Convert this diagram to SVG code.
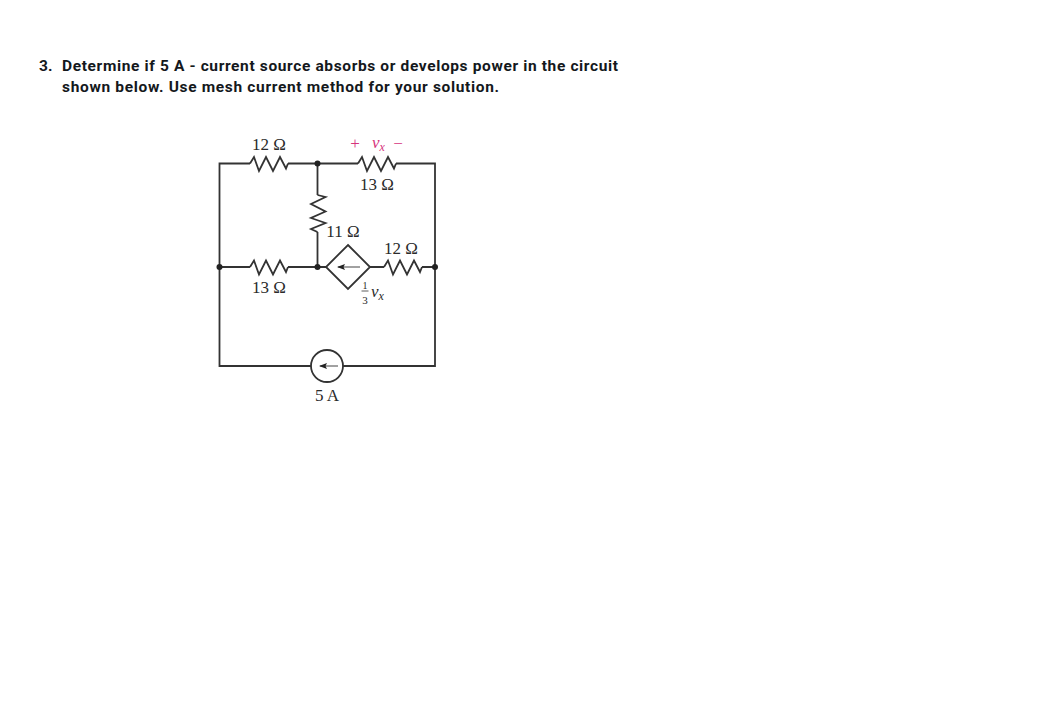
<svg xmlns="http://www.w3.org/2000/svg" width="1042" height="723" viewBox="0 0 1042 723">
<style>
.q{font-family:Roboto,"Liberation Sans",sans-serif;font-size:15.5px;font-weight:700;fill:#14181c}
.l{font-family:"Liberation Serif","Times New Roman",serif;font-size:17px;fill:#2a2a2a;text-anchor:middle}
.m{fill:#d6337c}
.w{fill:none;stroke:#333;stroke-width:1.8;stroke-linejoin:miter}
.d{fill:#222}
.a{fill:none;stroke:#444;stroke-width:1}
.v{font-style:italic;text-anchor:start}
</style>
<defs>
<path id="rh" d="M0 0L4 -6.500L9 7.500L16 -6.500L23 7.500L30 -6.500L36 5L38 0" class="w"/>
<marker id="ah" markerUnits="userSpaceOnUse" markerWidth="8" markerHeight="6" refX="7" refY="3" orient="auto"><path d="M0 0L8 3L0 6L1.500 3Z" fill="#222"/></marker>
</defs>
<rect width="1042" height="723" fill="#fff"/>
<g id="title">
<text class="q" x="39" y="71">3.</text>
<text class="q" x="62" y="71" textLength="556" lengthAdjust="spacing">Determine if 5 A - current source absorbs or develops power in the circuit</text>
<text class="q" x="62" y="92" textLength="437" lengthAdjust="spacing">shown below. Use mesh current method for your solution.</text>
</g>
<g id="connectors">
<path class="w" d="M250 163.500H219.500V366H311M343 366H435V163.500H396M358 163.500H288M317.500 163.500V195M317.500 232V267M219.500 267H250M288 267H326M370 267H384M422 267H435"/>
</g>
<g id="r-12-top"><use href="#rh" x="250" y="163.500"/><text class="l" x="269" y="150">12 Ω</text></g>
<g id="r-13-top"><use href="#rh" x="358" y="163.500"/><text class="l" x="377" y="190">13 Ω</text></g>
<g id="vx-label"><text class="l m" x="355" y="149">+</text><text class="l m v" x="372" y="148">v<tspan font-size="12" dy="3">x</tspan></text><text class="l m" x="398" y="149">−</text></g>
<g id="r-11"><path class="w" d="M317.500 195L325.500 197L311 204L325.500 211.500L311 218L325.500 223L311 229L317.500 232"/><text class="l" x="343" y="237">11 Ω</text></g>
<g id="r-13-left"><use href="#rh" x="250" y="267"/><text class="l" x="269" y="293">13 Ω</text></g>
<g id="r-12-right"><use href="#rh" x="384" y="267"/><text class="l" x="401" y="254">12 Ω</text></g>
<g id="dep-source"><path class="w" d="M348 245L370 267L348 289L326 267Z"/><path class="a" marker-end="url(#ah)" d="M360 267H338"/>
<text class="l" x="365" y="289" style="font-size:10px">1</text><path d="M361.500 291H368.500" stroke="#333" stroke-width="0.800"/><text class="l" x="365" y="303.500" style="font-size:11px">3</text><text class="l v" x="371" y="297">v<tspan font-size="12" dy="3">x</tspan></text></g>
<g id="current-source"><circle class="w" cx="327" cy="366" r="16"/><path class="a" marker-end="url(#ah)" d="M338 366H320"/><text class="l" x="327" y="401">5 A</text></g>
<g id="nodes">
<circle class="d" cx="317.500" cy="163.500" r="3"/>
<circle class="d" cx="219.500" cy="267" r="3"/>
<circle class="d" cx="317.500" cy="267" r="3"/>
<circle class="d" cx="435" cy="267" r="3"/>
</g>
</svg>
